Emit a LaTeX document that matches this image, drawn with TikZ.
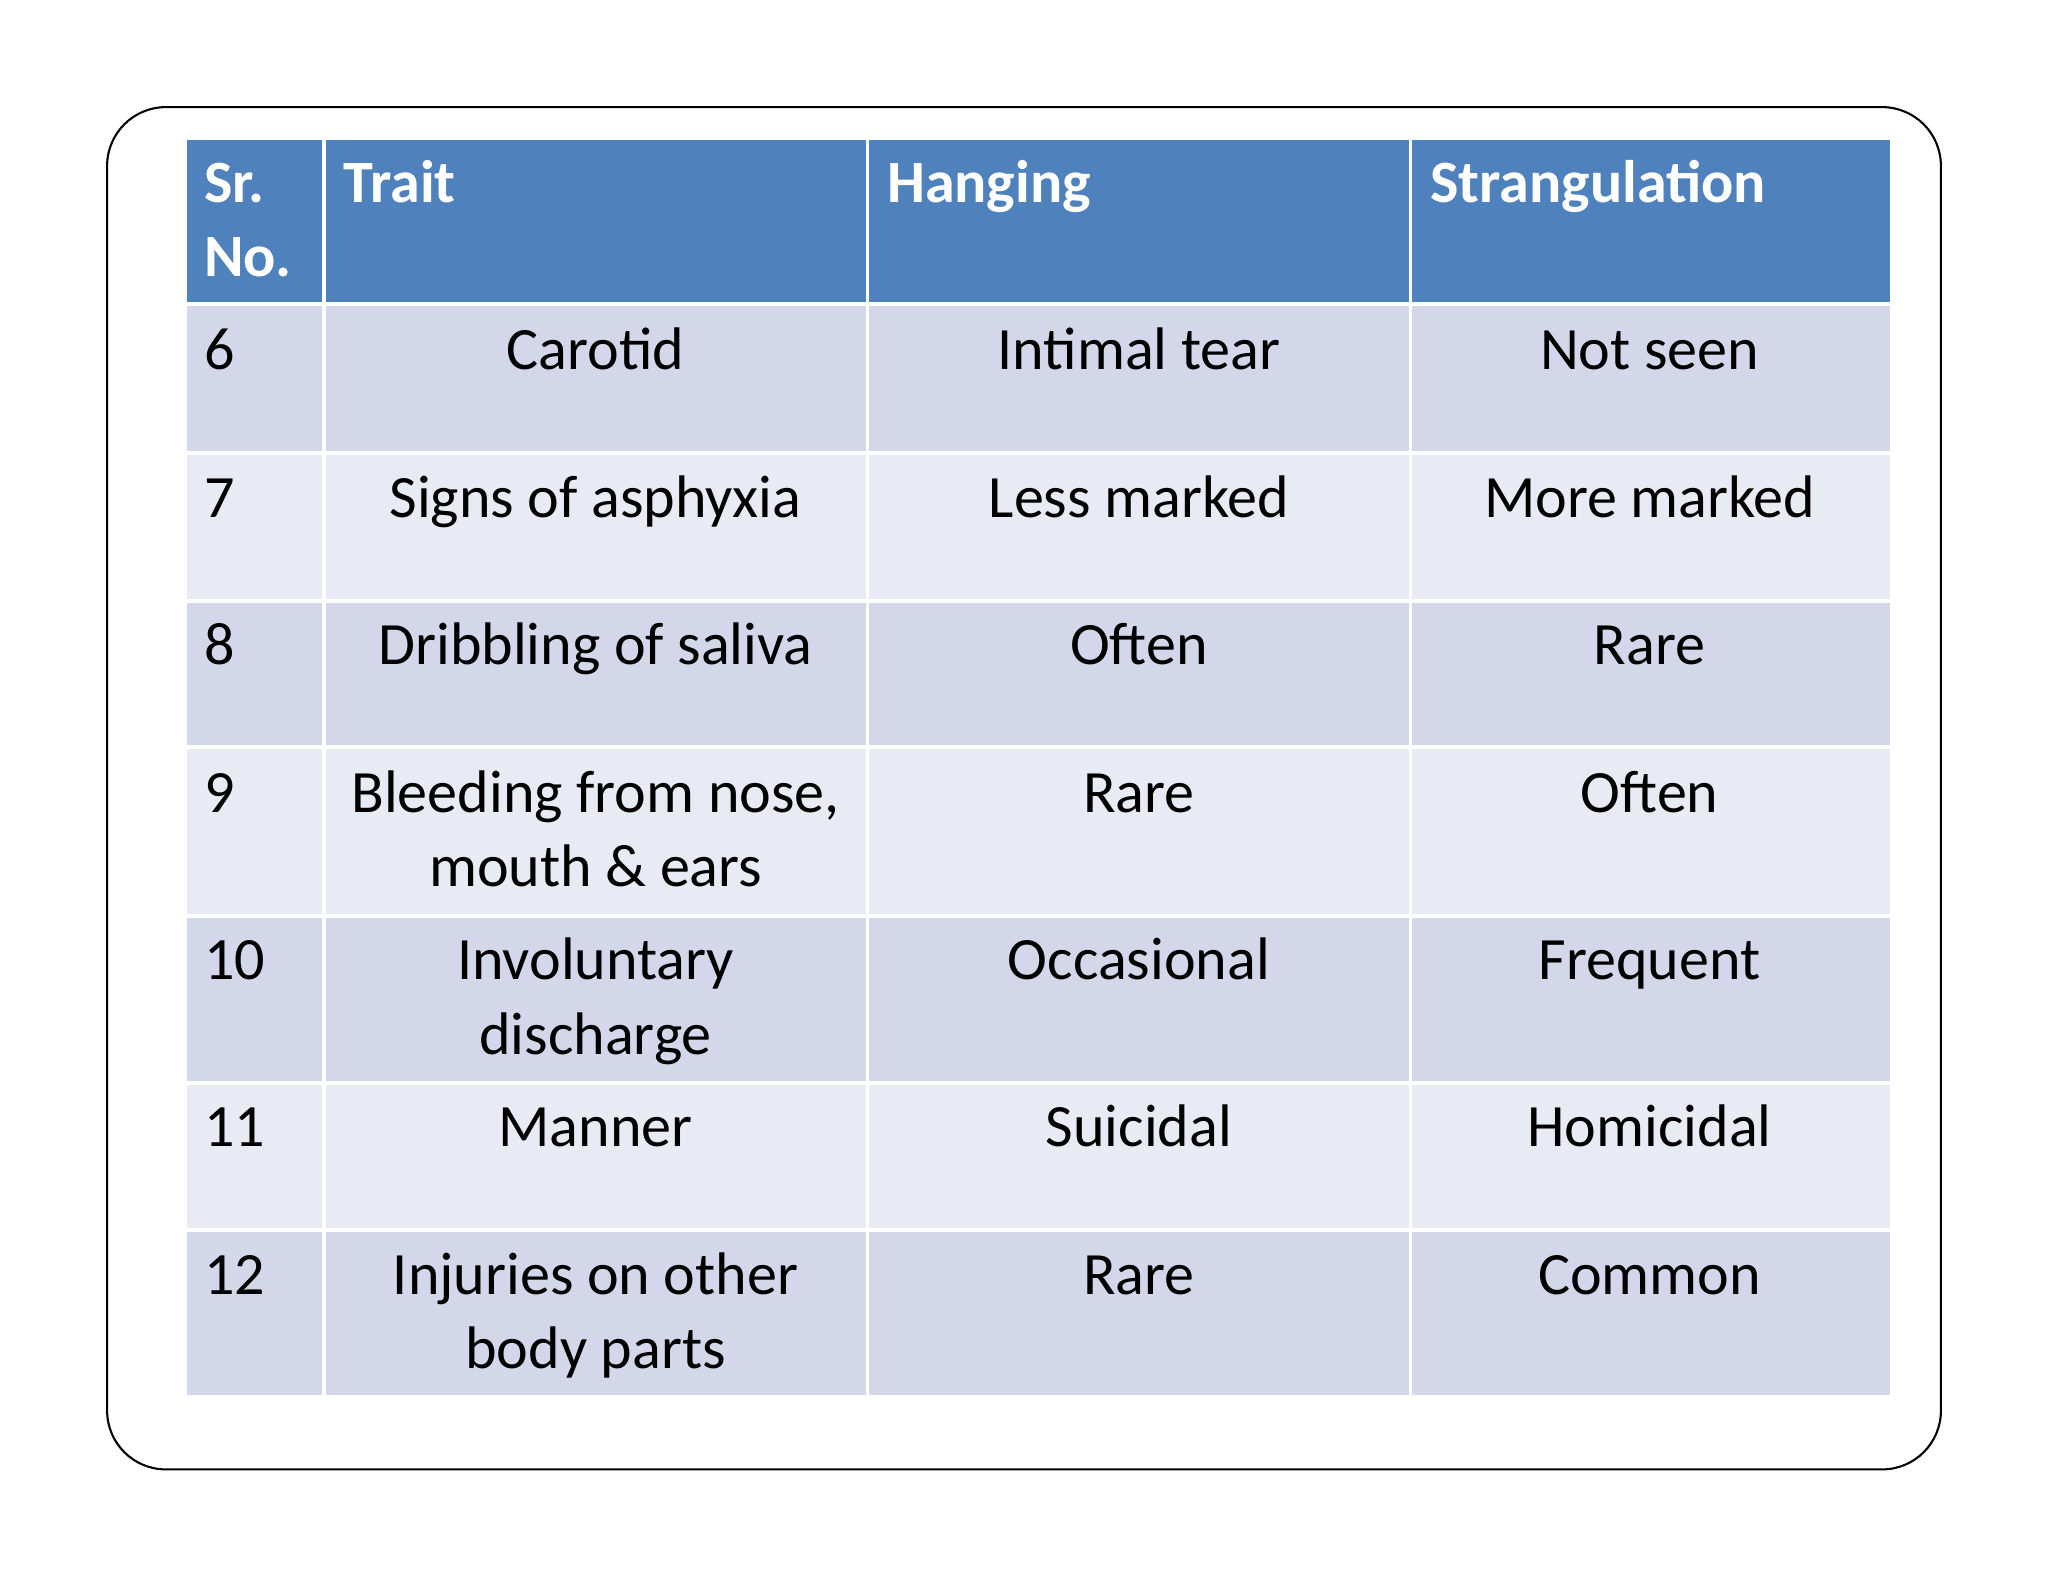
\documentclass[tikz,border=0pt]{standalone}
\usepackage{fontspec}
\setmainfont{Carlito}
\definecolor{hdr}{HTML}{4F81BD}
\definecolor{rowa}{HTML}{D3D7E9}
\definecolor{rowb}{HTML}{E9EBF4}
\newcommand{\mlc}[1]{\begin{tabular}[t]{@{}c@{}}#1\end{tabular}}
\newcommand{\mll}[1]{\begin{tabular}[t]{@{}l@{}}#1\end{tabular}}
\begin{document}
\begin{tikzpicture}[x=1pt,y=-1pt,
  cell/.style={font=\fontsize{46}{57}\selectfont,anchor=base,inner sep=0pt,text=black},
  hcell/.style={font=\fontsize{46}{57}\selectfont\bfseries,anchor=base west,inner sep=0pt,text=white},
  ncell/.style={font=\fontsize{46}{57}\selectfont,anchor=base west,inner sep=0pt,text=black}]
\useasboundingbox (0,0) rectangle (1568,1211);
\fill[white] (0,0) rectangle (1568,1211);
\draw[line width=1.6pt,rounded corners=45pt] (82,82) rectangle (1486,1125);
\fill[hdr] (143,107) rectangle (1447,233);
\foreach \a/\b/\c in {233/347/rowa,347/460/rowb,460/572/rowa,572/701/rowb,701/829/rowa,829/942/rowb,942/1068/rowa}
  \fill[\c] (143,\a) rectangle (1447,\b);
\foreach \y in {233,347,460,572,701,829,942}
  \draw[white,line width=3pt] (143,\y) -- (1447,\y);
\foreach \x in {248,664,1080}
  \draw[white,line width=2.5pt] (\x,107) -- (\x,1068);
\node[hcell] (h1) at (156,155) {\mll{Sr.\\No.}};
\node[hcell] (h2) at (263,155) {Trait};
\node[hcell] (h3) at (679,155) {Hanging};
\node[hcell] (h4) at (1095,155) {Strangulation};
\foreach \n/\yy/\t/\h/\s [count=\i] in {
 6/283/Carotid/Intimal tear/Not seen,
 7/396/Signs of asphyxia/Less marked/More marked,
 8/509/Dribbling of saliva/Often/Rare,
 9/622/{Bleeding from nose,\\mouth \& ears}/Rare/Often,
 10/750/{Involuntary\\discharge}/Occasional/Frequent,
 11/878/Manner/Suicidal/Homicidal,
 12/991/{Injuries on other\\body parts}/Rare/Common}{
  \node[ncell] (n\i) at (156,\yy) {\n};
  \node[cell] (t\i) at (456,\yy) {\mlc{\t}};
  \node[cell] (g\i) at (872,\yy) {\h};
  \node[cell] (s\i) at (1263,\yy) {\s};
}
\end{tikzpicture}
\end{document}
